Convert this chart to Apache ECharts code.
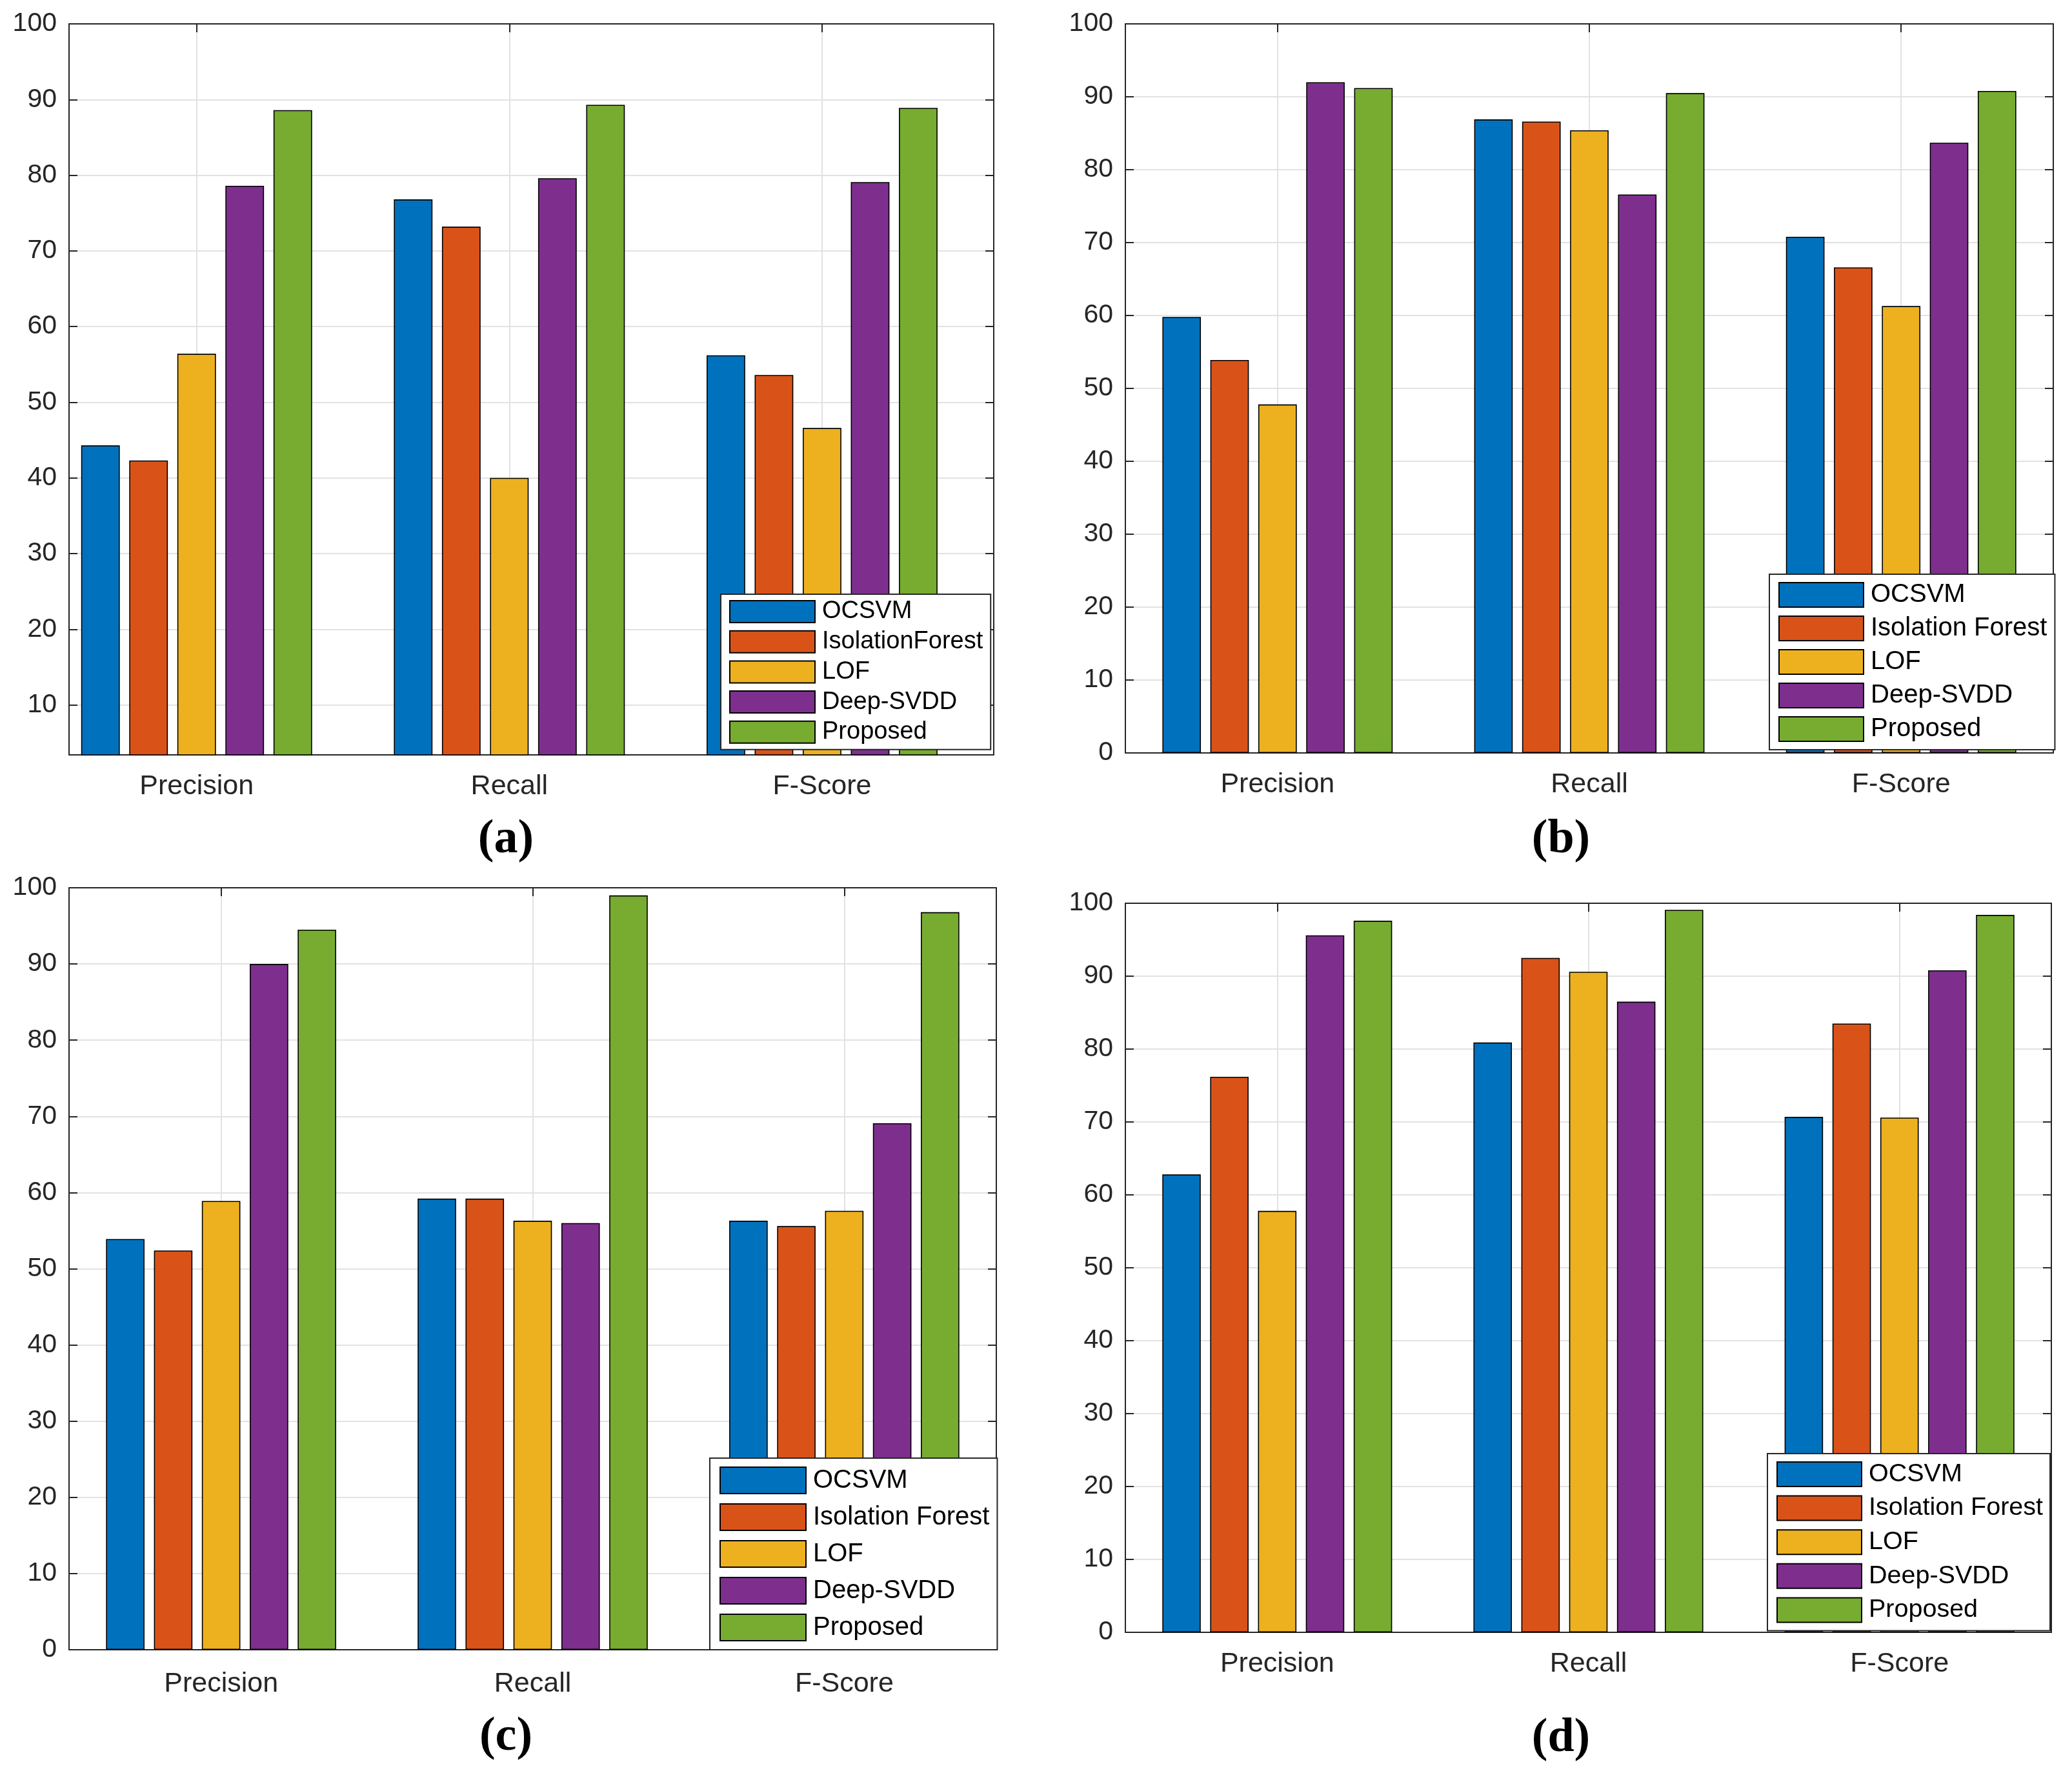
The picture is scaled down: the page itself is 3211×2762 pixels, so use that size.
<!DOCTYPE html>
<html>
<head>
<meta charset="utf-8">
<title>Precision / Recall / F-Score comparison</title>
<script src="https://cdn.jsdelivr.net/npm/echarts@6.0.0/dist/echarts.min.js"></script>
<style>
  html, body { margin: 0; padding: 0; background: #fff; }
  #main { width: 3211px; height: 2762px; }
</style>
</head>
<body>
<div id="main"></div>
<script>
  // categories and methods
  var categories = ['Precision', 'Recall', 'F-Score'];
  var methodsA = ['OCSVM', 'IsolationForest', 'LOF', 'Deep-SVDD', 'Proposed'];
  var methods = ['OCSVM', 'Isolation Forest', 'LOF', 'Deep-SVDD', 'Proposed'];
  var colors = ['#0072BD', '#D95319', '#EDB120', '#7E2F8E', '#77AC30'];

  // values per panel: one row per method, [Precision, Recall, F-Score]
  var valuesA = [
    [44.3, 76.8, 56.2],
    [42.3, 73.2, 53.6],
    [56.4, 40.0, 46.6],
    [78.6, 79.6, 79.1],
    [88.6, 89.3, 88.9]
  ];
  var valuesB = [
    [59.8, 86.9, 70.8],
    [53.9, 86.6, 66.6],
    [47.8, 85.4, 61.3],
    [92.0, 76.6, 83.7],
    [91.2, 90.5, 90.8]
  ];
  var valuesC = [
    [53.9, 59.2, 56.3],
    [52.4, 59.2, 55.6],
    [58.9, 56.3, 57.6],
    [90.0, 56.0, 69.1],
    [94.5, 99.0, 96.8]
  ];
  var valuesD = [
    [62.8, 80.9, 70.7],
    [76.2, 92.5, 83.5],
    [57.8, 90.6, 70.6],
    [95.6, 86.5, 90.8],
    [97.6, 99.1, 98.4]
  ];

  // tick labels
  var yTicksA = [10, 20, 30, 40, 50, 60, 70, 80, 90, 100];
  var xTicks = [1, 2, 3];
  var captions = ['(a)', '(b)', '(c)', '(d)'];

  var axisColor = '#262626';
  var gridColor = '#e2e2e2';
  var sans = '"Liberation Sans", Arial, Helvetica, sans-serif';

  var panels = [
    { values: valuesA, names: methodsA, grid: { left: 107, top: 37, width: 1433, height: 1133 },
      xMin: 0.592, xMax: 3.549, yMin: 3.4, yTicks: yTicksA, xMargin: 28,
      legend: { left: 1117, top: 921, w: 132, h: 34, step: 46.7, padL: 13, padT: 10, padR: 12, font: 38 },
      caption: { x: 784, y: 1302 } },
    { values: valuesB, names: methods, grid: { left: 1744, top: 37, width: 1438, height: 1130 },
      xMin: 0.512, xMax: 3.488, yMin: 0, xMargin: 28,
      legend: { left: 2742, top: 890, w: 131, h: 38, step: 52, padL: 14, padT: 13, padR: 12, font: 40 },
      caption: { x: 2419, y: 1302 } },
    { values: valuesC, names: methods, grid: { left: 107, top: 1376, width: 1437, height: 1181 },
      xMin: 0.512, xMax: 3.488, yMin: 0, xMargin: 32,
      legend: { left: 1100, top: 2260, w: 133, h: 41, step: 57, padL: 15, padT: 14, padR: 12, font: 40 },
      caption: { x: 784, y: 2693 } },
    { values: valuesD, names: methods, grid: { left: 1744, top: 1400, width: 1435, height: 1130 },
      xMin: 0.512, xMax: 3.488, yMin: 0, xMargin: 28,
      legend: { left: 2739, top: 2253, w: 131, h: 38, step: 52.6, padL: 14, padT: 13, padR: 11, font: 39.5 },
      caption: { x: 2419, y: 2695 } }
  ];

  var grids = [], xAxes = [], yAxes = [], series = [], legends = [], graphics = [];

  panels.forEach(function (p, k) {
    grids.push({ left: p.grid.left, top: p.grid.top, width: p.grid.width, height: p.grid.height, containLabel: false });

    // bottom axis with category labels
    xAxes.push({
      type: 'value', gridIndex: k, position: 'bottom', min: p.xMin, max: p.xMax,
      axisLine: { show: true, onZero: false, lineStyle: { color: axisColor, width: 2 } },
      axisTick: { show: true, inside: true, length: 13, customValues: xTicks, lineStyle: { color: axisColor, width: 2 } },
      axisLabel: {
        show: true, customValues: xTicks, margin: p.xMargin, color: axisColor, fontSize: 43, fontFamily: sans,
        formatter: function (v) { return categories[Math.round(v) - 1]; }
      },
      splitLine: { show: true, lineStyle: { color: gridColor, width: 2 } }
    });
    // top box edge
    xAxes.push({
      type: 'value', gridIndex: k, position: 'top', min: p.xMin, max: p.xMax,
      axisLine: { show: true, onZero: false, lineStyle: { color: axisColor, width: 2 } },
      axisTick: { show: true, inside: true, length: 13, customValues: xTicks, lineStyle: { color: axisColor, width: 2 } },
      axisLabel: { show: false },
      splitLine: { show: false }
    });

    var yLeft = {
      type: 'value', gridIndex: k, position: 'left', min: p.yMin, max: 100,
      axisLine: { show: true, onZero: false, lineStyle: { color: axisColor, width: 2 } },
      axisTick: { show: true, inside: true, length: 13, lineStyle: { color: axisColor, width: 2 } },
      axisLabel: { show: true, margin: 19, color: axisColor, fontSize: 41, fontFamily: sans },
      splitLine: { show: true, lineStyle: { color: gridColor, width: 2 } }
    };
    var yRight = {
      type: 'value', gridIndex: k, position: 'right', min: p.yMin, max: 100,
      axisLine: { show: true, onZero: false, lineStyle: { color: axisColor, width: 2 } },
      axisTick: { show: true, inside: true, length: 13, lineStyle: { color: axisColor, width: 2 } },
      axisLabel: { show: false },
      splitLine: { show: false }
    };
    if (p.yTicks) {
      yLeft.axisTick.customValues = p.yTicks;
      yLeft.axisLabel.customValues = p.yTicks;
      yRight.axisTick.customValues = p.yTicks;
    } else {
      yLeft.interval = 10;
      yRight.interval = 10;
    }
    yAxes.push(yLeft, yRight);

    p.values.forEach(function (row, j) {
      series.push({
        type: 'bar',
        name: p.names[j],
        xAxisIndex: k * 2,
        yAxisIndex: k * 2,
        barWidth: '12.35%',
        barGap: '24.5%',
        clip: true,
        itemStyle: { color: colors[j], borderColor: '#000', borderWidth: 1.6 },
        data: row.map(function (v, i) { return [xTicks[i], v]; })
      });
    });

    // legend rows are as tall as the larger of swatch (plus its stroke) and text
    var L = p.legend;
    var rowH = Math.max(L.h + 2, L.font);
    var padV = L.padT - (rowH - L.h) / 2;
    legends.push({
      data: p.names,
      orient: 'vertical',
      left: L.left,
      top: L.top,
      itemWidth: L.w,
      itemHeight: L.h,
      itemGap: L.step - rowH,
      icon: 'rect',
      selectedMode: false,
      padding: [padV, L.padR, padV, L.padL],
      backgroundColor: '#fff',
      borderColor: axisColor,
      borderWidth: 2,
      borderRadius: 0,
      itemStyle: { borderColor: '#000', borderWidth: 2 },
      textStyle: { color: '#000', fontSize: L.font, fontFamily: sans, padding: [0, 0, 0, 6] }
    });

    graphics.push({
      type: 'text',
      x: p.caption.x,
      y: p.caption.y,
      style: {
        text: captions[k],
        font: 'bold 74px "Liberation Serif", "Times New Roman", serif',
        fill: '#000',
        textAlign: 'center',
        textVerticalAlign: 'middle'
      }
    });
  });

  var chart = echarts.init(document.getElementById('main'), null, { renderer: 'canvas' });
  chart.setOption({
    backgroundColor: '#fff',
    animation: false,
    grid: grids,
    xAxis: xAxes,
    yAxis: yAxes,
    legend: legends,
    series: series,
    graphic: graphics
  });

  window.addEventListener('resize', function () {
    chart.resize();
  });
</script>
</body>
</html>
